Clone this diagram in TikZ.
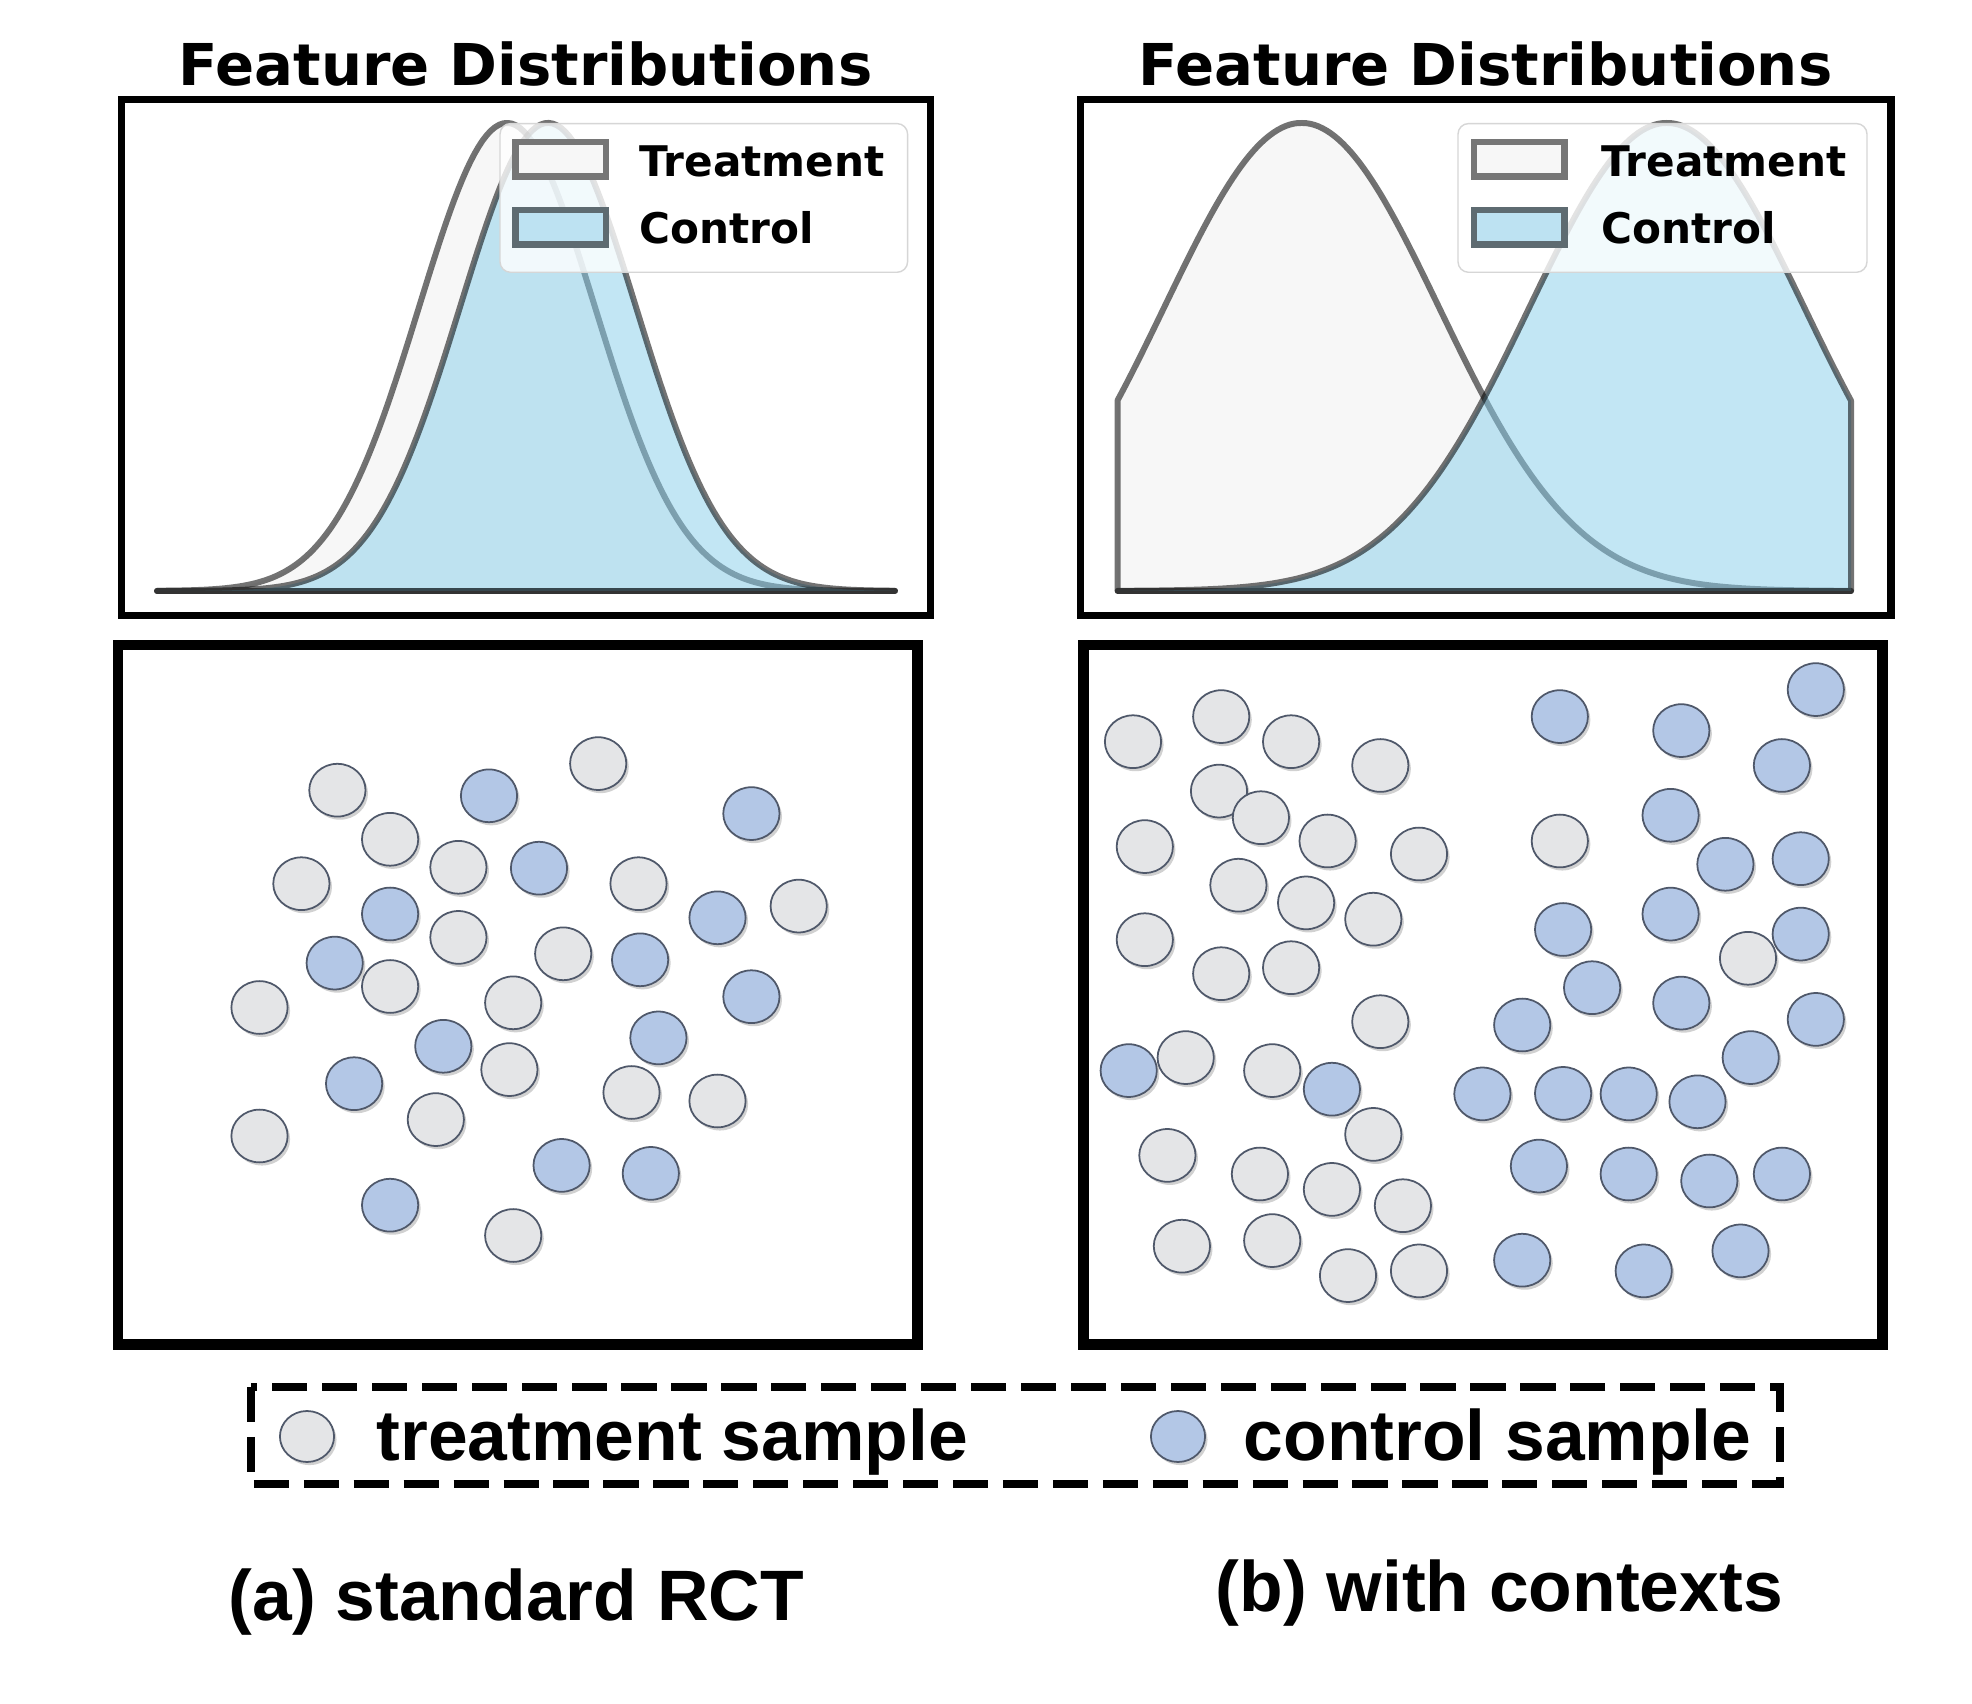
\documentclass[tikz,border=0pt]{standalone}
\usepackage{fontspec}
\newfontfamily\djv{DejaVu Sans}
\newfontfamily\lsans{Liberation Sans}
\usetikzlibrary{shapes.geometric,shadows}
\definecolor{tfillc}{HTML}{F7F7F7}
\definecolor{skyb}{RGB}{135,206,235}
\definecolor{dotgrey}{HTML}{E4E5E7}
\definecolor{dotblue}{HTML}{B3C7E6}
\definecolor{dotedge}{HTML}{4F586A}
\definecolor{legframe}{HTML}{D6D6D6}
\definecolor{hdlTedge}{HTML}{767676}
\definecolor{hdlCedge}{HTML}{5E6B71}
\definecolor{hdlCfill}{HTML}{BDE2F2}
\begin{document}
\begin{tikzpicture}[x=0.01cm,y=-0.01cm,
  frameA/.style={draw=black,line width=2.1pt},
  frameB/.style={draw=black,line width=2.9pt},
  curveT/.style={fill=tfillc,draw=black,draw opacity=0.55,line width=1.7pt,line join=round,line cap=round},
  curveC/.style={fill=skyb,fill opacity=0.5,draw=black,draw opacity=0.55,line width=1.7pt,line join=round,line cap=round},
  legfr/.style={draw=legframe,line width=0.4pt,fill=white,fill opacity=0.8,rounded corners=3pt},
  hdlT/.style={draw=hdlTedge,fill=tfillc,line width=1.9pt},
  hdlC/.style={draw=hdlCedge,fill=hdlCfill,line width=1.9pt},
  ttl/.style={font=\djv\bfseries\fontsize{16.4}{19}\selectfont,inner sep=0,anchor=base},
  legtxt/.style={font=\djv\bfseries\fontsize{12}{14}\selectfont,inner sep=0,anchor=base west},
  smp/.style={ellipse,minimum width=16pt,minimum height=15pt,inner sep=0,draw=dotedge,line width=0.5pt,
    general shadow={fill=black,opacity=0.18,shadow xshift=0.7pt,shadow yshift=-0.9pt}},
  gsmp/.style={smp,fill=dotgrey},
  bsmp/.style={smp,fill=dotblue},
  capt/.style={font=\lsans\bfseries\fontsize{20.3}{24}\selectfont,inner sep=0,anchor=base west},
  legdash/.style={draw=black,line width=2.4pt,dash pattern=on 10pt off 4.2pt}
]
\fill[white] (0,0) rectangle (1972,1704);
\useasboundingbox (0,0) rectangle (1972,1704);

% ---------- titles ----------
\node[ttl] (titleA) at (525.5,85.2) {Feature Distributions};
\node[ttl] (titleB) at (1485.5,85.2) {Feature Distributions};

% ---------- top-left distributions ----------
\path[curveT] (157,591) -- plot[domain=157:895,samples=180] (\x,{591-468*exp(-0.5*((\x-507)/88)*((\x-507)/88))}) -- (895,591) -- cycle;
\path[curveC] (157,591) -- plot[domain=157:895,samples=180] (\x,{591-468*exp(-0.5*((\x-548)/88)*((\x-548)/88))}) -- (895,591) -- cycle;
\path[legfr] (500,123.6) rectangle (907.6,272.3);
\draw[hdlT] (515.5,142) rectangle (606,176.5);
\draw[hdlC] (515.5,210) rectangle (606,244.5);
\node[legtxt] (legTA) at (639,176.2) {Treatment};
\node[legtxt] (legCA) at (639,243.5) {Control};
\draw[frameA] (121.5,99.5) rectangle (930.5,615.5);

% ---------- top-right distributions ----------
\path[curveT] (1117.7,591) -- plot[domain=1117.7:1851,samples=180] (\x,{591-468*exp(-0.5*((\x-1301.6)/137.3)*((\x-1301.6)/137.3))}) -- (1851,591) -- cycle;
\path[curveC] (1117.7,591) -- plot[domain=1117.7:1851,samples=180] (\x,{591-468*exp(-0.5*((\x-1666.8)/137.3)*((\x-1666.8)/137.3))}) -- (1851,591) -- cycle;
\path[legfr] (1458,123.6) rectangle (1867,272.3);
\draw[hdlT] (1474,142) rectangle (1564.5,176.5);
\draw[hdlC] (1474,210) rectangle (1564.5,244.5);
\node[legtxt] (legTB) at (1601,176.2) {Treatment};
\node[legtxt] (legCB) at (1601,243.5) {Control};
\draw[frameA] (1080.5,99.5) rectangle (1891,615.5);

% ---------- bottom-left samples ----------
\foreach \px/\py [count=\i] in {337.4/790.2,598.2/763.6,390.1/839.3,458.4/867.3,301.4/883.7,638.5/883.7,798.7/906.1,458.4/937.4,563.2/953.8,390.1/986.5,259.5/1007.5,513.2/1002.8,509.4/1069.6,631.5/1092.5,717.5/1101.0,435.8/1119.6,259.5/1136.0,513.2/1235.5}
  \node[gsmp] (la\i) at (\px,\py) {};
\foreach \px/\py [count=\i] in {489.0/795.8,751.4/813.6,539.0/868.2,390.1/914.0,717.5/917.8,640.1/959.8,334.7/963.1,751.4/996.7,443.3/1046.3,658.4/1037.9,354.1/1083.7,561.6/1165.4,650.8/1173.4,390.1/1205.2}
  \node[bsmp] (lb\i) at (\px,\py) {};
\draw[frameB] (118,645) rectangle (917.5,1344.5);

% ---------- bottom-right samples ----------
\node[bsmp] (rbx1) at (1128.7,1070.6) {};
\node[bsmp] (rbx2) at (1331.9,1089.2) {};
\foreach \px/\py [count=\i] in {1133.0/741.7,1221.2/716.6,1291.1/741.7,1380.3/765.5,1219.0/791.1,1260.9/817.7,1144.8/846.6,1327.6/841.0,1419.0/854.0,1238.4/885.2,1306.1/902.9,1373.3/919.2,1144.8/939.7,1221.2/973.7,1291.1/967.7,1380.3/1021.7,1185.7/1057.6,1272.2/1070.6,1373.3/1134.4,1167.4/1155.4,1259.9/1174.0,1331.9/1189.4,1402.9/1205.7,1181.9/1246.2,1272.2/1240.6,1348.0/1275.6,1419.0/1270.9,1559.8/841.0,1748.0/958.3}
  \node[gsmp] (ra\i) at (\px,\py) {};
\foreach \px/\py [count=\i] in {1559.8/716.6,1681.3/730.6,1815.8/689.6,1781.9/765.5,1670.6/815.3,1725.4/864.3,1800.7/858.7,1670.6/914.1,1563.1/929.5,1800.7/934.1,1592.1/987.7,1681.3/1003.1,1522.2/1025.0,1815.8/1019.4,1750.7/1057.6,1482.4/1093.9,1563.1/1093.4,1628.7/1093.9,1697.5/1101.8,1538.9/1166.1,1628.7/1174.0,1709.3/1181.0,1781.9/1174.0,1522.2/1260.2,1643.7/1270.9,1740.5/1250.9}
  \node[bsmp] (rb\i) at (\px,\py) {};
\draw[frameB] (1083.5,645) rectangle (1882.5,1344.5);

% ---------- legend ----------
\draw[legdash] (251,1387) rectangle (1780,1484);
\node[gsmp,minimum width=15.4pt,minimum height=14.5pt] (legdotT) at (307,1436.5) {};
\node[capt] (legtextT) at (376,1460) {treatment sample};
\node[bsmp,minimum width=15.4pt,minimum height=14.5pt] (legdotC) at (1178,1436.5) {};
\node[capt] (legtextC) at (1243,1460) {control sample};

% ---------- captions ----------
\node[capt] (captA) at (228,1620) {(a) standard RCT};
\node[capt] (captB) at (1215,1611) {(b) with contexts};
\end{tikzpicture}
\end{document}
